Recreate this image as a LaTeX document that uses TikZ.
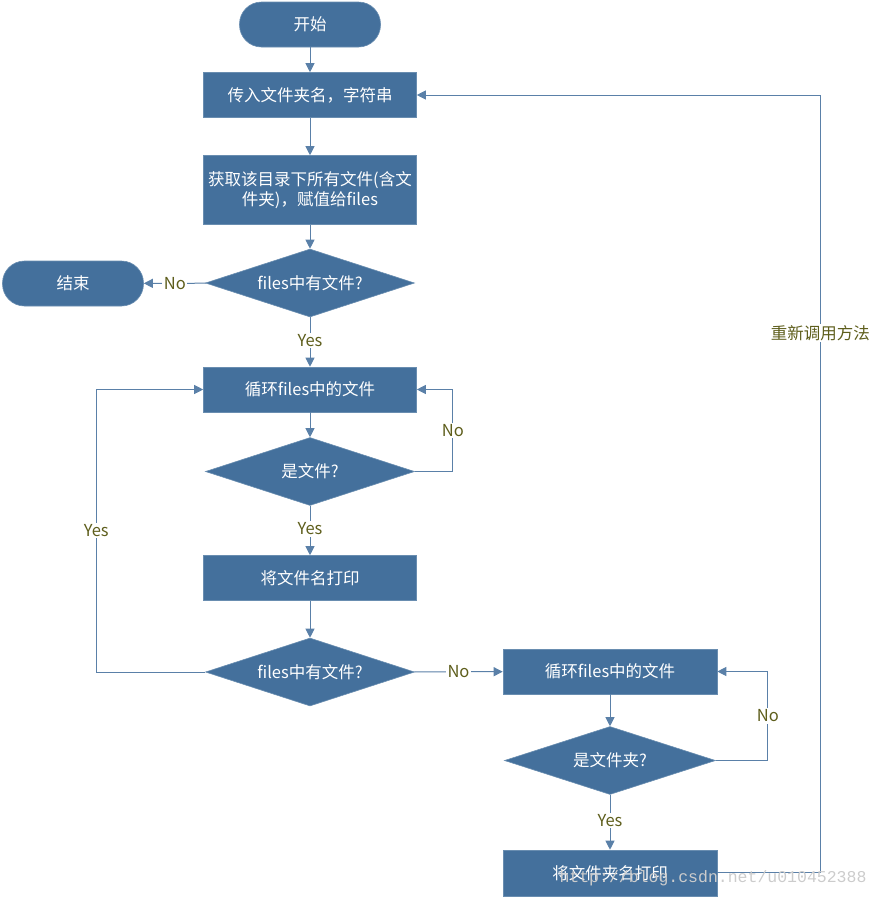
\documentclass[tikz,border=0pt]{standalone}
\usepackage{fontspec}
\setmainfont{Noto Sans CJK SC}
\newfontfamily\wmfont{Liberation Mono}
\usetikzlibrary{shapes.geometric,arrows.meta}
\definecolor{fillblue}{HTML}{44709C}
\definecolor{lineblue}{HTML}{5A80A8}
\definecolor{labelolive}{HTML}{5E5E1C}
\tikzset{
  base/.style={fill=fillblue,draw=fillblue!80!white,line width=0.6pt,text=white,font=\fontsize{16.5}{20}\selectfont,inner sep=2pt},
  term/.style={base,rectangle,rounded corners=22pt,minimum width=141pt,minimum height=45pt},
  proc/.style={base,rectangle,minimum width=213pt,minimum height=45pt,align=center},
  dec/.style={base,diamond,aspect=3,inner sep=0pt,minimum width=209pt,minimum height=68pt},
  conn/.style={draw=lineblue,line width=1pt,-{Triangle[length=9pt,width=9pt]}},
  lbl/.style={fill=white,text=labelolive,font=\fontsize{16.5}{18}\selectfont,inner sep=1.5pt}
}
\begin{document}
\begin{tikzpicture}[x=1pt,y=-1pt]
\useasboundingbox (0,0) rectangle (880,898);
\node[term] (start) at (310,24.5) {开始};
\node[proc] (b1) at (310,95) {传入文件夹名，字符串};
\node[proc,minimum height=69pt,inner sep=1pt] (b2) at (310,190) {获取该目录下所有文件(含文\\件夹)，赋值给files};
\node[dec] (d1) at (310,283) {files中有文件?};
\node[term] (end) at (73,283.5) {结束};
\node[proc] (loop) at (310,389.5) {循环files中的文件};
\node[dec] (d2) at (310,471.5) {是文件?};
\node[proc] (pr) at (310,578) {将文件名打印};
\node[dec] (d3) at (310,672) {files中有文件?};
\node[proc,minimum width=214pt] (loop2) at (610,671.5) {循环files中的文件};
\node[dec,minimum width=211pt] (d4) at (610,760.5) {是文件夹?};
\node[proc,minimum width=214pt,minimum height=46pt] (pr2) at (610,873) {将文件夹名打印};

\draw[conn] (start) -- (b1);
\draw[conn] (b1) -- (b2);
\draw[conn] (b2) -- (d1);
\draw[conn] (d1) -- node[lbl,pos=0.5]{No} (end);
\draw[conn] (d1) -- node[lbl,pos=0.47]{Yes} (loop);
\draw[conn] (loop) -- (d2);
\draw[conn] (d2.east) -- ++(38,0) |- node[lbl,pos=0.25]{No} (loop.east);
\draw[conn] (d2) -- node[lbl,pos=0.47]{Yes} (pr);
\draw[conn] (pr) -- (d3);
\draw[conn] (d3.west) -- ++(-109,0) |- node[lbl,pos=0.25]{Yes} (loop.west);
\draw[conn] (d3) -- node[lbl,pos=0.5]{No} (loop2);
\draw[conn] (loop2) -- (d4);
\draw[conn] (d4.east) -- ++(52,0) |- node[lbl,pos=0.25]{No} (loop2.east);
\draw[conn] (d4) -- node[lbl,pos=0.47]{Yes} (pr2);
\draw[conn] (pr2.east) ++(0,-1) coordinate (p2e) -- ++(103,0) |- node[lbl,pos=0.347]{重新调用方法} (b1.east);
\node[text=black!20,font=\wmfont\fontsize{16.5}{18}\selectfont,inner sep=0pt] (wm) at (713,878) {http://blog.csdn.net/u010452388};
\end{tikzpicture}
\end{document}
